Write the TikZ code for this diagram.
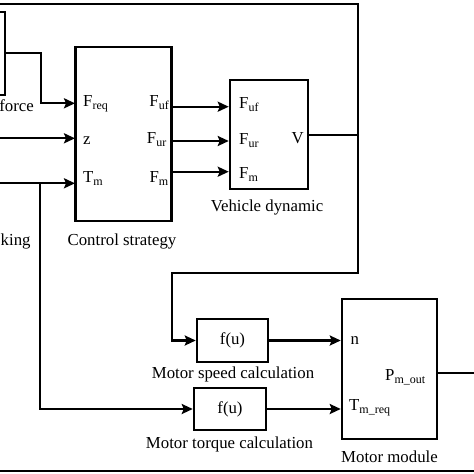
\documentclass[tikz,border=0pt]{standalone}
\usepackage{fontspec}
\setmainfont{Liberation Serif}
\usetikzlibrary{arrows.meta}
\newcommand{\sbx}[1]{\raisebox{-3pt}{\fontsize{12}{12}\selectfont #1}}
\begin{document}
\begin{tikzpicture}[x=1pt,y=-1pt,
  wire/.style={line width=2.3pt},
  arr/.style={wire,-{Stealth[length=11pt,width=10pt,inset=2pt]}},
  blk/.style={draw,line width=2.5pt,inner sep=0pt},
  lbl/.style={inner sep=0pt,font=\fontsize{16.8}{18}\selectfont},
  ]
\clip (0,0) rectangle (474,474);
\fill[white] (0,0) rectangle (474,474);
% blocks
\node[blk,minimum width=40,minimum height=83] (src) at (-15,53.5) {};
\node[blk,minimum width=96,minimum height=174] (cs) at (123.5,134) {};
\node[blk,minimum width=78,minimum height=109] (vd) at (269,134.5) {};
\node[blk,minimum width=71,minimum height=43,lbl] (ms) at (232.5,340.5) {f(u)};
\node[blk,minimum width=72,minimum height=42,lbl] (mt) at (230,409) {f(u)};
\node[blk,minimum width=95,minimum height=140] (mm) at (389.5,369) {};
% captions
\node[lbl,anchor=base east] (cforce) at (34,111) {force};
\node[lbl,anchor=base west] (cbrk) at (0.5,245) {king};
\node[lbl,anchor=base] (ccs) at (122,245) {Control strategy};
\node[lbl,anchor=base] (cvd) at (267,211) {Vehicle dynamic};
\node[lbl,anchor=base] (cms) at (233,378) {Motor speed calculation};
\node[lbl,anchor=base] (cmt) at (229.5,448) {Motor torque calculation};
\node[lbl,anchor=base] (cmm) at (389.5,462) {Motor module};
% port labels
\node[lbl,anchor=base west] (pfreq) at (83,106.5) {F\sbx{req}};
\node[lbl,anchor=base west] (pz) at (83,144) {z};
\node[lbl,anchor=base west] (ptm) at (83,182.5) {T\sbx{m}};
\node[lbl,anchor=base east] (pfuf) at (169,106.5) {F\sbx{uf}};
\node[lbl,anchor=base east] (pfur) at (166.5,143.5) {F\sbx{ur}};
\node[lbl,anchor=base east] (pfm) at (168.5,182) {F\sbx{m}};
\node[lbl,anchor=base west] (vfuf) at (239,108.5) {F\sbx{uf}};
\node[lbl,anchor=base west] (vfur) at (239,144) {F\sbx{ur}};
\node[lbl,anchor=base west] (vfm) at (239,178) {F\sbx{m}};
\node[lbl,anchor=base east] (vv) at (304,143) {V};
\node[lbl,anchor=base west] (mn) at (350.5,344) {n};
\node[lbl,anchor=base west] (mtr) at (349,410) {T\sbx{m\_req}};
\node[lbl,anchor=base west] (mp) at (385,380) {P\sbx{m\_out}};
% coordinates
\coordinate (J) at (358,135);
\coordinate (Jtop) at (358,4);
\coordinate (Ltop) at (-5,4);
\coordinate (Jlow) at (358,273);
\coordinate (Bend) at (172,273);
\coordinate (Fa) at (5,53);
\coordinate (Fb) at (41,53);
\coordinate (Fin) at (75,103.3);
\coordinate (Zl) at (-5,138.3);
\coordinate (Zin) at (75,138.3);
\coordinate (Tl) at (-5,183.3);
\coordinate (Tin) at (75,183.3);
\coordinate (Tb) at (40,183.3);
\coordinate (Pout) at (480,373);
\coordinate (Bl) at (-5,471);
\coordinate (Br) at (480,471);
% connectors
\draw[arr] (Fa) -- (Fb) |- (Fin);
\draw[arr] (Zl) -- (Zin);
\draw[arr] (Tl) -- (Tin);
\draw[arr] (Tb) |- (mt.west);
\draw[arr] (cs.east |- 0,106.7) -- (vd.west |- 0,106.7);
\draw[arr] (cs.east |- 0,141) -- (vd.west |- 0,141);
\draw[arr] (cs.east |- 0,171.7) -- (vd.west |- 0,171.7);
\draw[wire] (vd.east |- J) -- (J);
\draw[wire] (J) -- (Jtop) -- (Ltop);
\draw[arr] (J) -- (Jlow) -- (Bend) |- (ms.west);
\draw[arr] (ms.east) -- (mm.west |- ms.east);
\draw[arr] (mt.east) -- (mm.west |- mt.east);
\draw[wire] (mm.east |- Pout) -- (Pout);
\draw[wire] (Bl) -- (Br);
\end{tikzpicture}
\end{document}
